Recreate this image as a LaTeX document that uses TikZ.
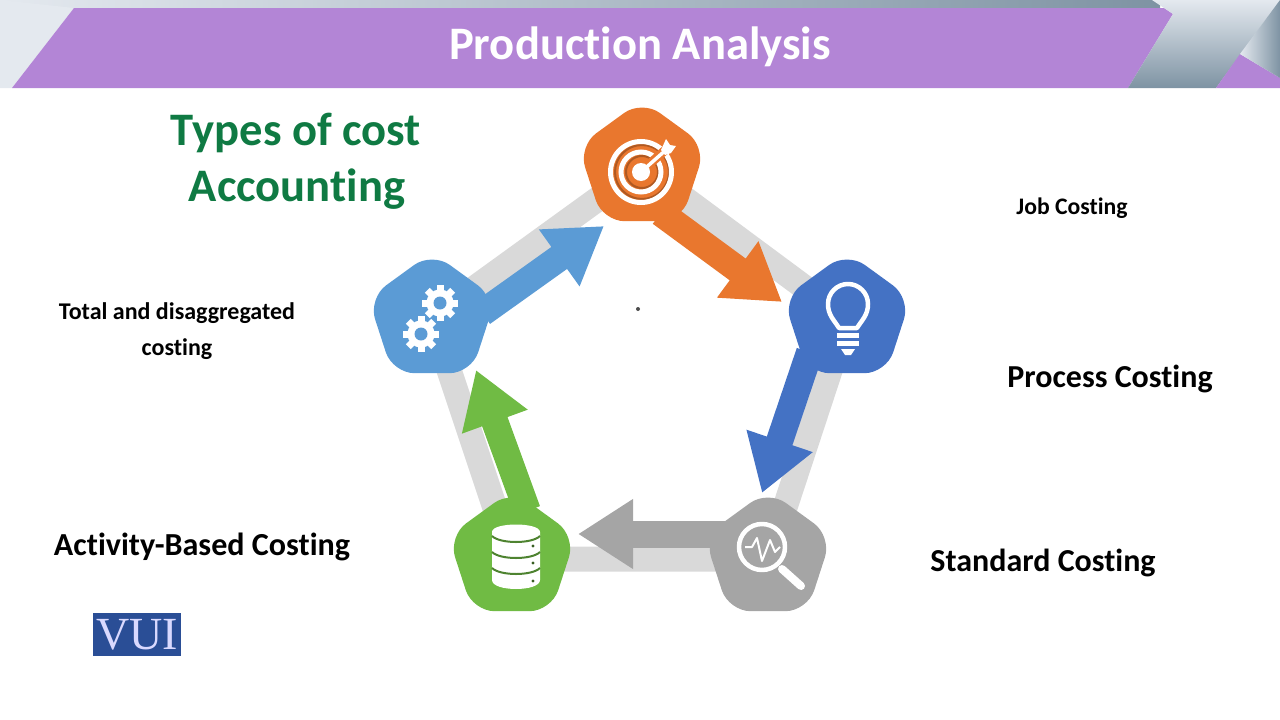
\documentclass[tikz,border=0pt]{standalone}
\usepackage{fontspec}
\setmainfont[Ligatures=NoCommon]{Carlito}
\newfontfamily\logofont{Liberation Serif}
\usetikzlibrary{arrows.meta, shapes.geometric, backgrounds}
\definecolor{bandpurple}{HTML}{B385D6}
\definecolor{headgreen}{HTML}{0F7A43}
\definecolor{ringgray}{HTML}{D9D9D9}
\definecolor{hubblue}{HTML}{5B9BD5}
\definecolor{huborange}{HTML}{E9772E}
\definecolor{hubindigo}{HTML}{4472C4}
\definecolor{hubgray}{HTML}{A5A5A5}
\definecolor{hubgreen}{HTML}{70BB44}
\definecolor{logoblue}{HTML}{2A4E96}
\definecolor{steellight}{HTML}{E4E9EF}
\definecolor{steeldark}{HTML}{7E93A3}
\tikzset{
hub/.style={regular polygon, regular polygon sides=5, minimum size=134pt, inner sep=0pt, outer sep=0pt, rounded corners=22pt}, % the five pentagons
flow/.style={line width=27pt, shorten <=-14pt, -{Triangle[length=55pt, width=66pt]}}, % the thick coloured arrows
ringline/.style={line width=25pt, ringgray},
iconline/.style={white, line width=4.5pt, line cap=round, line join=round},
label/.style={font=\fontsize{#1}{#1}\selectfont\bfseries, black, inner sep=0pt},
head/.style={font=\fontsize{46.6}{46.6}\selectfont\bfseries, headgreen, inner sep=0pt},
}

\begin{document}
\begin{tikzpicture}[x=1pt, y=-1pt]
    \useasboundingbox (0,0) rectangle (1280,720);
    % header
    \shade[left color=steellight, right color=steeldark] (0,0) rectangle (1160,8);
    \fill[steellight] (0,0) -- (74,8) -- (12,88) -- (0,88) -- cycle;
    \fill[bandpurple] (12,88) -- (74,8) -- (1164,8) -- (1173,14) -- (1128,88) -- cycle;
    \shade[top color=steellight, bottom color=steeldark] (1152,0) -- (1280,0) -- (1216,88) -- (1128,88) -- (1173,14) -- cycle;
    \fill[bandpurple] (1216,88) -- (1240,54) -- (1280,78) -- (1280,88) -- cycle;
    \shade[left color=steellight, right color=steeldark] (1240,54) -- (1280,0) -- (1280,78) -- cycle;
    \node[font=\fontsize{46.6}{46.6}\selectfont\bfseries, white, inner sep=0pt] (title) at (640,47) {Production Analysis};
    % pentagons
    \node[hub, fill=huborange] (target) at (642,167) {};
    \node[hub, fill=hubindigo] (bulb) at (847,319) {};
    \node[hub, fill=hubgray] (scan) at (768,557) {};
    \node[hub, fill=hubgreen] (data) at (512,557) {};
    \node[hub, fill=hubblue] (gears) at (432,319) {};
    \coordinate (tiptarget) at (782,302);
    \coordinate (tipbulb) at (762,493);
    \coordinate (tipscan) at (578,534);
    \coordinate (tipdata) at (476,370);
    \coordinate (tipgears) at (604,226);
    \begin{scope}[on background layer]
        \draw[ringline] (target.center) -- (bulb.center) -- ([yshift=-2pt]scan.center) -- ([yshift=-2pt]data.center) -- (gears.center) -- cycle;
        \draw[flow, huborange] (target.-61) -- (tiptarget);
        \draw[flow, hubindigo] (bulb.228) -- (tipbulb);
        \draw[flow, hubgray, shorten <=0pt] (scan.center |- tipscan) -- (tipscan);
        \draw[flow, hubgreen] (data.80) -- (tipdata);
        \draw[flow, hubblue] (gears.13) -- (tipgears);
    \end{scope}
    % target icon
    \draw[huborange!75!black, line width=2pt] (642,172) circle (27) (642,172) circle (16);
    \draw[white, line width=5pt] (641,172) circle (30.5) (641,172) circle (20);
    \draw[huborange, line width=9pt] (645,168) -- (672,144);
    \fill[white] (641,172) circle (9);
    \draw[white, line width=3.5pt] (641,172) -- (667,149);
    \fill[white] (661,150) -- (666,139) -- (670,145) -- (676,146) -- (671,153) -- (665,155) -- cycle;
    % bulb icon
    \draw[iconline] (839,328) .. controls (834,320) and (828,315) .. (828,304) .. controls (828,293) and (837,284) .. (848,284) .. controls (859,284) and (868,293) .. (868,304) .. controls (868,315) and (862,320) .. (857,328) -- cycle;
    \draw[iconline, line cap=butt, line width=5pt] (837,335) -- (859,335) (837,343) -- (859,343);
    \fill[white] (841,349) -- (855,349) -- (851,355) -- (845,355) -- cycle;
    % magnifier icon
    \draw[iconline] (762,547) circle (23);
    \draw[iconline, line width=8pt] (782,569) -- (801,586);
    \draw[white, line width=2pt, line join=round] (745,547) -- (752,547) -- (757,538) -- (762,561) -- (770,540) -- (775,552) -- (780,547);
    % database icon
    \fill[white] (492,532) .. controls (492,522) and (540,522) .. (540,532) -- (540,580) .. controls (540,592) and (492,592) .. (492,580) -- cycle;
    \foreach \ylayer in {536,552,568} \draw[hubgreen!70!black, line width=2pt] (492,\ylayer) .. controls (500,\ylayer+8) and (532,\ylayer+8) .. (540,\ylayer);
    \foreach \ylayer in {546,563,581} \fill[hubgreen!50!black] (533,\ylayer) circle (1.6);
    % gears icon
    \foreach \gx/\gy in {440/303,421/334} {
        \fill[white] (\gx,\gy) circle (13.5);
        \foreach \a in {0,45,...,315} \fill[white, rotate around={\a:(\gx,\gy)}] (\gx-3.5,\gy-18) rectangle (\gx+3.5,\gy);
        \fill[hubblue] (\gx,\gy) circle (6.5);
    }
    % texts
    \node[head] (types) at (296,133) {Types of cost};
    \node[head] (account) at (297,189) {Accounting};
    \node[label=23.7] (job) at (1072,208) {Job Costing};
    \node[label=32] (process) at (1110,379) {Process Costing};
    \node[label=32] (standard) at (1043,563) {Standard Costing};
    \node[label=32.1] (activity) at (202,547) {Activity-Based Costing};
    \node[label=24] (total) at (177,313) {Total and disaggregated};
    \node[label=24] (costing) at (177,349) {costing};
    \fill[black!70] (638,309) circle (2);
    % logo
    \node[fill=logoblue, text=white!85!blue, minimum width=88pt, minimum height=43pt, inner sep=0pt, font=\fontsize{46}{46}\logofont] (logo) at (137,634.5) {VUI};
\end{tikzpicture}
\end{document}
